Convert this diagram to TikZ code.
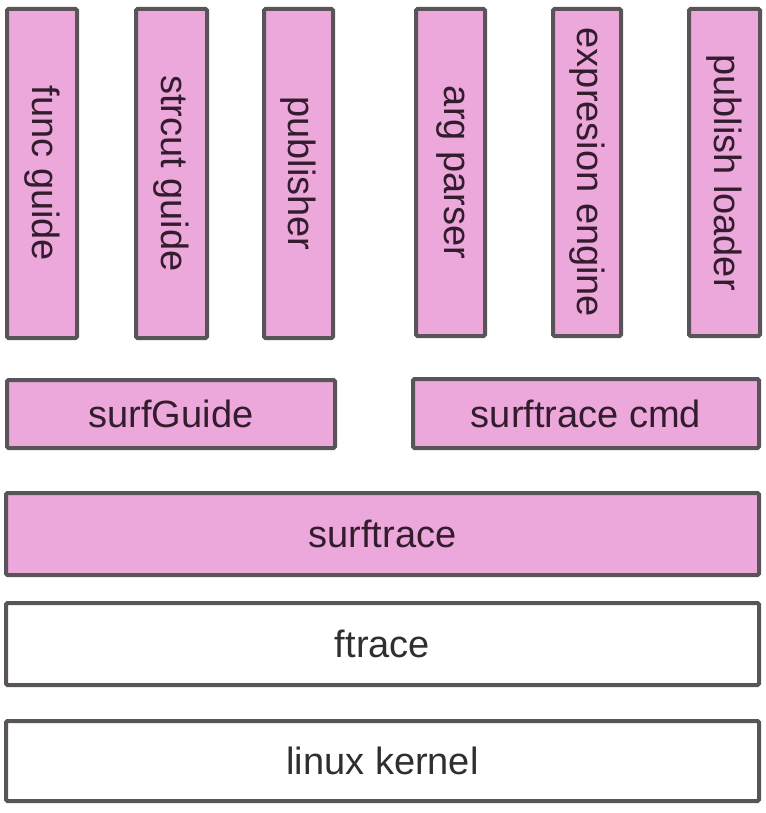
\documentclass[tikz,border=0pt]{standalone}
\usepackage{fontspec}
\setmainfont{Liberation Sans}
\definecolor{pinkfill}{RGB}{236,168,218}
\definecolor{edgegray}{RGB}{88,84,88}
\definecolor{pinktext}{RGB}{50,28,45}
\definecolor{graytext}{RGB}{48,46,48}
\begin{document}
\begin{tikzpicture}[x=1pt,y=-1pt,
  layer/.style={draw=edgegray, line width=4pt, rounded corners=1.5pt, inner sep=0pt,
    font=\fontsize{38}{40}\selectfont, anchor=north west},
  pinkbox/.style={layer, fill=pinkfill, text=pinktext},
  whitebox/.style={layer, fill=white, text=graytext},
  vbox/.style={pinkbox, minimum width=70pt, minimum height=329pt}]
\useasboundingbox (0,0) rectangle (765,813);
\node[vbox] (fg) at (5,7) {\rotatebox{-90}{func guide}};
\node[vbox, minimum width=71pt] (sg) at (134,7) {\rotatebox{-90}{strcut guide}};
\node[vbox, minimum width=69pt] (pub) at (262,7) {\rotatebox{-90}{publisher}};
\node[vbox, minimum width=69pt, minimum height=327pt] (arg) at (414,7) {\rotatebox{-90}{arg parser}};
\node[vbox, minimum width=68pt, minimum height=327pt] (exp) at (551,7) {\rotatebox{-90}{expresion engine}};
\node[vbox, minimum width=71pt, minimum height=327pt] (pl) at (687,7) {\rotatebox{-90}{publish loader}};
\node[pinkbox, minimum width=328pt, minimum height=68pt] (guide) at (5,378) {surfGuide};
\node[pinkbox, minimum width=346pt, minimum height=69pt] (cmd) at (411,377) {surftrace cmd};
\node[pinkbox, minimum width=753pt, minimum height=82pt] (st) at (4,491) {surftrace};
\node[whitebox, minimum width=753pt, minimum height=82pt] (ft) at (4,601) {ftrace};
\node[whitebox, minimum width=753pt, minimum height=80pt] (lk) at (4,719) {linux kernel};
\end{tikzpicture}
\end{document}
